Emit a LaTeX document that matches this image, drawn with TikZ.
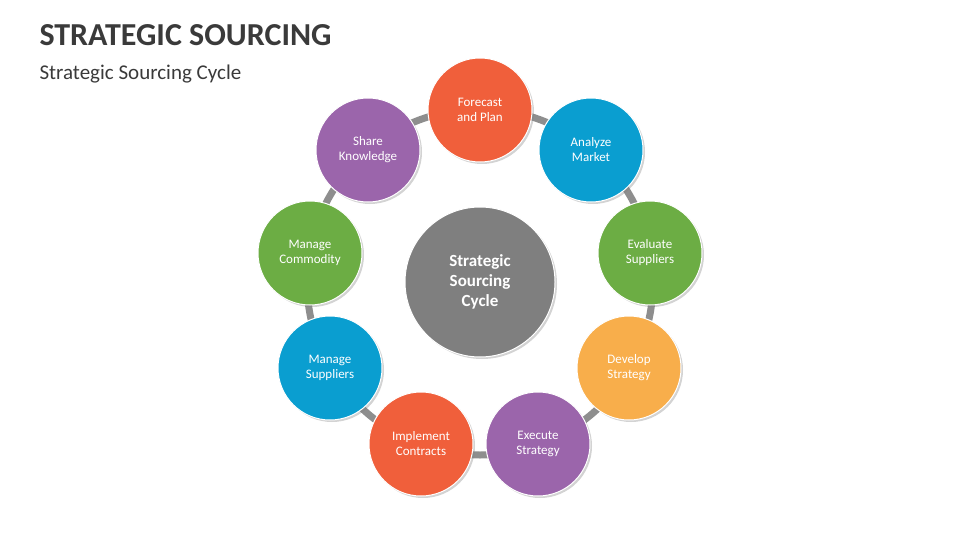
\documentclass[tikz,border=0pt]{standalone}
\usepackage{fontspec}
\setmainfont{Carlito}
\usetikzlibrary{shadows}
\definecolor{cred}{HTML}{F05F3B}
\definecolor{cblue}{HTML}{0A9ED0}
\definecolor{cgreen}{HTML}{6CAD44}
\definecolor{cyel}{HTML}{F8AE4B}
\definecolor{cpur}{HTML}{9B65AB}
\definecolor{cgray}{HTML}{7F7F7F}
\definecolor{ringc}{HTML}{8E8E8E}
\definecolor{titc}{HTML}{3A3A3A}
\tikzset{
 cyc/.style={circle,minimum size=104pt,inner sep=0pt,draw=white,line width=1pt,text=white,font=\fontsize{13}{15}\selectfont,align=center,drop shadow={opacity=0.35,shadow xshift=2pt,shadow yshift=-2pt}},
 ring/.style={draw=ringc,line width=7pt}
}
\begin{document}
\begin{tikzpicture}[x=1pt,y=-1pt]
\useasboundingbox (0,0) rectangle (960,540);
\node[anchor=west,font=\fontsize{32}{36}\selectfont\bfseries,text=titc] (t) at (36,35) {STRATEGIC SOURCING};
\node[anchor=west,font=\fontsize{21}{24}\selectfont,text=titc] (s) at (36,74) {Strategic Sourcing Cycle};
\coordinate (c) at (480,282);
\draw[ring] (c) circle (173);
\node[cyc,fill=cred] (a) at (480,110) {Forecast\\and Plan};
\node[cyc,fill=cblue] (b) at (591,150) {Analyze\\Market};
\node[cyc,fill=cgreen] (d) at (650,253) {Evaluate\\Suppliers};
\node[cyc,fill=cyel] (e) at (629,368) {Develop\\Strategy};
\node[cyc,fill=cpur] (f) at (538,444) {Execute\\Strategy};
\node[cyc,fill=cred] (g) at (421,444) {Implement\\Contracts};
\node[cyc,fill=cblue] (h) at (330,368) {Manage\\Suppliers};
\node[cyc,fill=cgreen] (i) at (310,253) {Manage\\Commodity};
\node[cyc,fill=cpur] (j) at (368,150) {Share\\Knowledge};
\node[circle,minimum size=150pt,fill=cgray,draw=white,line width=1pt,text=white,align=center,font=\fontsize{17}{20}\selectfont\bfseries,drop shadow={opacity=0.35,shadow xshift=2pt,shadow yshift=-2pt}] (m) at (c) {Strategic\\Sourcing\\Cycle};
\end{tikzpicture}
\end{document}
